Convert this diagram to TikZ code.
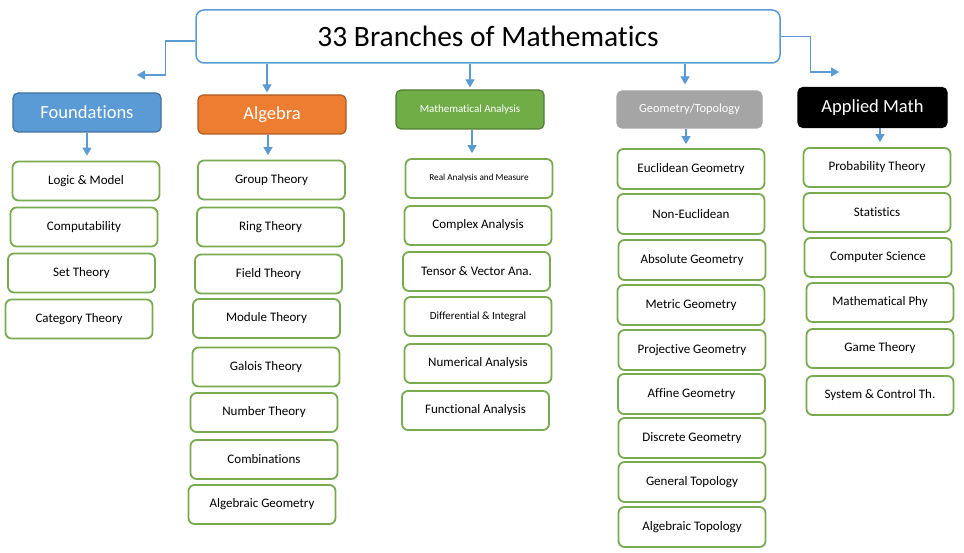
\documentclass[tikz,border=0pt]{standalone}
\usepackage{fontspec}
\setmainfont{Carlito}[Ligatures=NoCommon]
\usepackage{xcolor}
\usepackage{tikz}
\usetikzlibrary{positioning,arrows.meta}
\definecolor{linkblue}{RGB}{91,155,213}
\definecolor{fndfill}{RGB}{91,155,213}
\definecolor{fnddraw}{RGB}{65,113,156}
\definecolor{algfill}{RGB}{237,125,49}
\definecolor{algdraw}{RGB}{174,90,33}
\definecolor{anafill}{RGB}{112,173,71}
\definecolor{anadraw}{RGB}{80,126,50}
\definecolor{geofill}{RGB}{165,165,165}
\definecolor{leafgreen}{RGB}{120,170,80}
\tikzset{
  titlebox/.style = {rectangle, rounded corners=8pt, draw=linkblue, line width=1.5pt,
                     fill=white, minimum width=584pt, minimum height=53pt,
                     font=\fontsize{29.5}{32}\selectfont},
  headbox/.style  = {rectangle, rounded corners=5pt, line width=1.2pt, text=white,
                     minimum width=148pt, minimum height=39pt,
                     font=\fontsize{18.5}{21}\selectfont},
  leafbox/.style  = {rectangle, rounded corners=6pt, draw=leafgreen, line width=1.8pt,
                     fill=white, minimum width=147pt, minimum height=39pt,
                     font=\fontsize{13}{15}\selectfont},
  link/.style     = {-{Triangle[width=9pt,length=8pt]}, linkblue, line width=1.2pt}
}

\begin{document}
\begin{tikzpicture}[x=1pt, y=-1pt]
  \useasboundingbox (0,0) rectangle (964,553);
  % ---- title ----
  \node[titlebox] (title) at (488,36.5) {33 Branches of Mathematics};
  % ---- branch heads ----
  \node[headbox, fill=fndfill, draw=fnddraw] (fnd) at (87,112.5)  {Foundations};
  \node[headbox, fill=algfill, draw=algdraw] (alg) at (272,114.5) {Algebra};
  \node[headbox, fill=anafill, draw=anadraw,
        font=\fontsize{11}{13}\selectfont]  (ana) at (470,109.5) {Mathematical Analysis};
  \node[headbox, fill=geofill, draw=geofill, minimum width=145pt, minimum height=37pt,
        font=\fontsize{12.4}{14}\selectfont] (geo) at (689.5,109.5) {Geometry/Topology};
  \node[headbox, fill=black, draw=black, minimum width=149pt,
        minimum height=40pt]                (app) at (872.5,107.5) {Applied Math};
  % ---- Foundations ----
  \node[leafbox] (f1) at (86,181)   {Logic \& Model};
  \node[leafbox] (f2) at (84,227)   {Computability};
  \node[leafbox] (f3) at (81.5,273) {Set Theory};
  \node[leafbox] (f4) at (79,319)   {Category Theory};
  % ---- Algebra ----
  \node[leafbox] (a1) at (271.5,180)   {Group Theory};
  \node[leafbox] (a2) at (270.5,227)   {Ring Theory};
  \node[leafbox] (a3) at (268.5,274)   {Field Theory};
  \node[leafbox] (a4) at (266.5,318.5) {Module Theory};
  \node[leafbox] (a5) at (266,367)     {Galois Theory};
  \node[leafbox] (a6) at (264,412.5)   {Number Theory};
  \node[leafbox] (a7) at (264,459.5)   {Combinations};
  \node[leafbox] (a8) at (262,504.5)   {Algebraic Geometry};
  % ---- Mathematical Analysis ----
  \node[leafbox, font=\fontsize{9.2}{11}\selectfont]
                 (m1) at (479,178.5)   {Real Analysis and Measure};
  \node[leafbox] (m2) at (478,225.5)   {Complex Analysis};
  \node[leafbox] (m3) at (476.5,271.5) {Tensor \& Vector Ana.};
  \node[leafbox, font=\fontsize{11}{13}\selectfont]
                 (m4) at (478,316.5)   {Differential \& Integral};
  \node[leafbox] (m5) at (478,363.5)   {Numerical Analysis};
  \node[leafbox] (m6) at (475.5,410.5) {Functional Analysis};
  % ---- Geometry/Topology ----
  \node[leafbox, minimum height=40pt] (g1) at (691,169)   {Euclidean Geometry};
  \node[leafbox, minimum height=40pt] (g2) at (691,214)   {Non-Euclidean};
  \node[leafbox, minimum height=40pt] (g3) at (692,260)   {Absolute Geometry};
  \node[leafbox, minimum height=40pt] (g4) at (691,305)   {Metric Geometry};
  \node[leafbox, minimum height=40pt] (g5) at (692,350)   {Projective Geometry};
  \node[leafbox, minimum height=40pt] (g6) at (691.5,394) {Affine Geometry};
  \node[leafbox, minimum height=40pt] (g7) at (692,438)   {Discrete Geometry};
  \node[leafbox, minimum height=40pt] (g8) at (692,482)   {General Topology};
  \node[leafbox, minimum height=40pt] (g9) at (692,527)   {Algebraic Topology};
  % ---- Applied Math ----
  \node[leafbox] (p1) at (877,167.5) {Probability Theory};
  \node[leafbox] (p2) at (877,212.5) {Statistics};
  \node[leafbox] (p3) at (878,257.5) {Computer Science};
  \node[leafbox] (p4) at (880,302.5) {Mathematical Phy};
  \node[leafbox] (p5) at (880,348.5) {Game Theory};
  \node[leafbox] (p6) at (880,395.5) {System \& Control Th.};
  % ---- title to heads ----
  \coordinate (fndin) at (137,75);
  \coordinate (appin) at (839,72);
  \draw[link] ([yshift=-4.5pt]title.west) -- ++(-30,0) |- (fndin);
  \draw[link] (title.east) -- ++(30,0) |- (appin);
  \draw[link, shorten >=2pt] (title.south -| 267,0) -- ([xshift=-5pt]alg.north);
  \draw[link, shorten >=2pt] (title.south -| ana.north) -- (ana.north);
  \draw[link, shorten >=6pt] (title.south -| 685,0) -- ([xshift=-4.5pt]geo.north);
  % ---- heads to first leaves ----
  \draw[link, shorten >=5pt] (fnd.south) -- (fnd.south |- f1.north);
  \draw[link, shorten >=4.5pt] ([xshift=-4pt]alg.south) -- ([xshift=-4pt]alg.south |- a1.north);
  \draw[link, shorten >=5pt] ([xshift=2pt]ana.south) -- ([xshift=2pt]ana.south |- m1.north);
  \draw[link, shorten >=4pt] ([xshift=-3.5pt]geo.south) -- ([xshift=-3.5pt]geo.south |- g1.north);
  \draw[link, shorten >=5pt] ([xshift=7.5pt]app.south) -- ([xshift=7.5pt]app.south |- p1.north);
\end{tikzpicture}
\end{document}
